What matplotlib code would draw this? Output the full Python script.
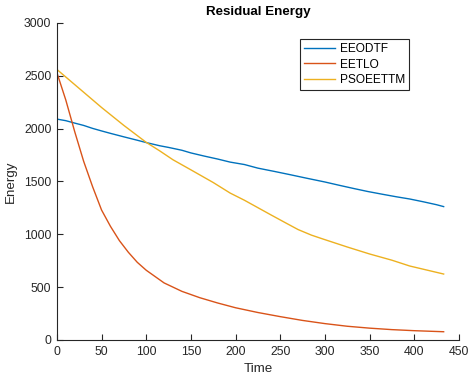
import numpy as np
import matplotlib
matplotlib.use('Agg')
import matplotlib.pyplot as plt

# ── Data ───────────────────────────────────────
t_eeodtf = [0, 10, 20, 30, 40, 50, 60, 75, 90, 100, 115, 125, 140, 150, 165,
            180, 194, 210, 225, 244, 260, 280, 300, 317, 333, 348, 365, 380,
            395, 410, 425, 433]
e_eeodtf = [2090, 2075, 2052, 2030, 2002, 1978, 1955, 1922, 1890, 1868, 1838,
            1822, 1795, 1770, 1740, 1712, 1683, 1660, 1626, 1594, 1566, 1530,
            1495, 1462, 1432, 1405, 1378, 1355, 1334, 1308, 1280, 1262]

t_eetlo = [0, 10, 20, 30, 40, 50, 60, 70, 80, 90, 100, 120, 140, 160, 180,
           200, 225, 250, 275, 300, 325, 350, 375, 400, 433]
e_eetlo = [2530, 2270, 1970, 1690, 1450, 1230, 1075, 940, 830, 735, 660, 540,
           460, 400, 350, 305, 260, 221, 185, 155, 130, 112, 98, 88, 78]

t_pso = [0, 25, 50, 75, 100, 115, 130, 150, 175, 194, 210, 225, 240, 257,
         270, 285, 298, 325, 350, 375, 395, 415, 433]
e_pso = [2560, 2380, 2200, 2030, 1870, 1790, 1705, 1610, 1490, 1390, 1322,
         1252, 1182, 1104, 1045, 992, 955, 880, 814, 755, 700, 660, 624]

# MATLAB default colour order
colors = ['#0072BD', '#D95319', '#EDB120']

fig = plt.figure(figsize=(4.74, 3.82), dpi=100)
ax = fig.add_axes([0.120, 0.110, 0.848, 0.830])

ax.plot(t_eeodtf, e_eeodtf, color=colors[0], lw=1.0, label='EEODTF')
ax.plot(t_eetlo, e_eetlo, color=colors[1], lw=1.0, label='EETLO')
ax.plot(t_pso, e_pso, color=colors[2], lw=1.0, label='PSOEETTM')

ax.set_xlim(0, 450)
ax.set_ylim(0, 3000)
ax.set_xticks(np.arange(0, 451, 50))
ax.set_yticks(np.arange(0, 3001, 500))

font = ['Liberation Sans', 'DejaVu Sans']
for sp in ['top', 'right']:
    ax.spines[sp].set_visible(False)
for sp in ['left', 'bottom']:
    ax.spines[sp].set_color('#262626')
    ax.spines[sp].set_linewidth(0.8)
ax.tick_params(direction='in', length=4, width=0.8, color='#262626',
               labelsize=8.8, labelcolor='#262626', pad=4)
for lab in ax.get_xticklabels() + ax.get_yticklabels():
    lab.set_family(font)

ax.set_title('Residual Energy', fontsize=9.6, fontweight='bold',
             family=font, color='black', pad=6)
ax.set_xlabel('Time', fontsize=9.6, family=font, color='#262626', labelpad=4)
ax.set_ylabel('Energy', fontsize=9.6, family=font, color='#262626', labelpad=5)

leg = ax.legend(loc='upper right', bbox_to_anchor=(0.877, 0.950),
                fancybox=False, framealpha=1, edgecolor='#262626',
                prop={'family': font, 'size': 8.6}, handlelength=2.6,
                handletextpad=0.4, borderpad=0.35, labelspacing=0.3,
                borderaxespad=0)
leg.get_frame().set_linewidth(0.8)

fig.savefig('out.png', dpi=100)
